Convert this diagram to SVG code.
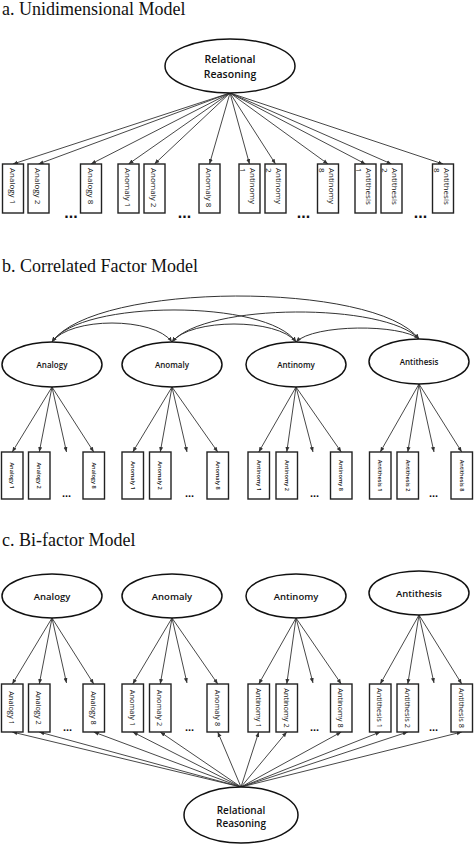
<svg xmlns="http://www.w3.org/2000/svg" width="474" height="846" viewBox="0 0 474 846">
<defs>
<marker id="ah" viewBox="0 0 10 10" refX="10" refY="5" markerWidth="5" markerHeight="5" markerUnits="userSpaceOnUse" orient="auto-start-reverse"><path d="M0,1 L10,5 L0,9 z" fill="#333"/></marker>
<style>
.title{font-family:"Liberation Serif",serif;font-size:18px;fill:#111}
.ell{fill:#fff;stroke:#111;stroke-width:1.5}
.box{fill:#fff;stroke:#222;stroke-width:1.4}
.lab{font-family:"Open Sans",sans-serif;fill:#111;text-anchor:middle}
.big{font-size:10.5px;font-weight:600}
.fb{font-size:8px;font-weight:600}
.fc{font-size:9.5px;font-weight:600}
.ta{font-family:"Open Sans",sans-serif;font-size:8px;fill:#111;dominant-baseline:central}
.tb{font-family:"Open Sans",sans-serif;font-size:5.6px;font-weight:600;fill:#111;text-anchor:middle;dominant-baseline:central}
.tc{font-family:"Open Sans",sans-serif;font-size:7.4px;fill:#111;text-anchor:middle;dominant-baseline:central}
.dots{font-family:"Liberation Sans",sans-serif;font-weight:bold;fill:#111;text-anchor:middle}
.arr{stroke:#333;stroke-width:0.9;fill:none;marker-end:url(#ah)}
.cv{stroke:#333;stroke-width:1;fill:none;marker-start:url(#ah);marker-end:url(#ah)}
</style>
</defs>

<text class="title" x="2" y="15">a. Unidimensional Model</text>
<text class="title" x="2" y="272">b. Correlated Factor Model</text>
<text class="title" x="2" y="546">c. Bi-factor Model</text>

<!-- connectors -->
<g id="connectors">
<g id="conn-a">
<path class="arr" d="M230,93 L13,164"/>
<path class="arr" d="M230,93 L38.5,164"/>
<path class="arr" d="M230,93 L91,164"/>
<path class="arr" d="M230,93 L128.5,164"/>
<path class="arr" d="M230,93 L154.5,164"/>
<path class="arr" d="M230,93 L209.5,164"/>
<path class="arr" d="M230,93 L249.5,164"/>
<path class="arr" d="M230,93 L275.5,164"/>
<path class="arr" d="M230,93 L328,164"/>
<path class="arr" d="M230,93 L365.5,164"/>
<path class="arr" d="M230,93 L391.5,164"/>
<path class="arr" d="M230,93 L443,164"/>
</g>
<g id="corr-b">
<path class="cv" d="M52,342 C70,316.7 154,316.7 172,342"/>
<path class="cv" d="M52,342 C80,299.3 268,299.3 296,342"/>
<path class="cv" d="M52,342 C95,281.2 376,281.2 419,339"/>
<path class="cv" d="M172,342 C190,318 278,318 296,342"/>
<path class="cv" d="M172,342 C205,302.5 386,302.5 419,339"/>
<path class="cv" d="M296,342 C314,323.9 401,323.9 419,339"/>
</g>
<g id="load-b">
<path class="arr" d="M52,387 L12.25,452"/>
<path class="arr" d="M52,387 L39.25,452"/>
<path class="arr" d="M52,387 L66.5,452"/>
<path class="arr" d="M52,387 L93.75,452"/>
<path class="arr" d="M172,387 L132.75,452"/>
<path class="arr" d="M172,387 L160.25,452"/>
<path class="arr" d="M172,387 L187,452"/>
<path class="arr" d="M172,387 L217.75,452"/>
<path class="arr" d="M296,387 L258.75,452"/>
<path class="arr" d="M296,387 L286.75,452"/>
<path class="arr" d="M296,387 L313,452"/>
<path class="arr" d="M296,387 L341.25,452"/>
<path class="arr" d="M419,384 L380.25,452"/>
<path class="arr" d="M419,384 L407.75,452"/>
<path class="arr" d="M419,384 L434,452"/>
<path class="arr" d="M419,384 L461.75,452"/>
</g>
<g id="load-c">
<path class="arr" d="M52,618 L12.25,684"/>
<path class="arr" d="M52,618 L39.25,684"/>
<path class="arr" d="M52,618 L66.5,683"/>
<path class="arr" d="M52,618 L93.75,684"/>
<path class="arr" d="M172,618 L132.75,684"/>
<path class="arr" d="M172,618 L160.25,684"/>
<path class="arr" d="M172,618 L187,683"/>
<path class="arr" d="M172,618 L217.75,684"/>
<path class="arr" d="M296,618 L258.75,684"/>
<path class="arr" d="M296,618 L286.75,684"/>
<path class="arr" d="M296,618 L313,683"/>
<path class="arr" d="M296,618 L341.25,684"/>
<path class="arr" d="M419,615 L380.25,684"/>
<path class="arr" d="M419,615 L407.75,684"/>
<path class="arr" d="M419,615 L434,683"/>
<path class="arr" d="M419,615 L461.75,684"/>
</g>
<g id="load-g">
<path class="arr" d="M241,787 L12.25,732"/>
<path class="arr" d="M241,787 L39.25,732"/>
<path class="arr" d="M241,787 L93.75,732"/>
<path class="arr" d="M241,787 L132.75,732"/>
<path class="arr" d="M241,787 L160.25,732"/>
<path class="arr" d="M241,787 L217.75,732"/>
<path class="arr" d="M241,787 L258.75,732"/>
<path class="arr" d="M241,787 L286.75,732"/>
<path class="arr" d="M241,787 L341.25,732"/>
<path class="arr" d="M241,787 L380.25,732"/>
<path class="arr" d="M241,787 L407.75,732"/>
<path class="arr" d="M241,787 L461.75,732"/>
</g>
</g>

<g id="a-rr"><ellipse class="ell" cx="230" cy="66" rx="65" ry="27"/>
<text class="lab big" x="230" y="63">Relational</text><text class="lab big" x="230" y="78">Reasoning</text></g>

<g id="a-analogy1"><rect class="box" x="2.5" y="164" width="21" height="49"/><text class="ta" transform="translate(13,168) rotate(90)">Analogy 1</text></g>
<g id="a-analogy2"><rect class="box" x="28" y="164" width="21" height="49"/><text class="ta" transform="translate(38.5,168) rotate(90)">Analogy 2</text></g>
<g id="a-analogy8"><rect class="box" x="80.5" y="164" width="21" height="49"/><text class="ta" transform="translate(91,168) rotate(90)">Analogy 8</text></g>
<g id="a-anomaly1"><rect class="box" x="118" y="164" width="21" height="49"/><text class="ta" transform="translate(128.5,168) rotate(90)">Anomaly 1</text></g>
<g id="a-anomaly2"><rect class="box" x="144" y="164" width="21" height="49"/><text class="ta" transform="translate(154.5,168) rotate(90)">Anomaly 2</text></g>
<g id="a-anomaly8"><rect class="box" x="199" y="164" width="21" height="49"/><text class="ta" transform="translate(209.5,168) rotate(90)">Anomaly 8</text></g>
<g id="a-antinomy1"><rect class="box" x="239" y="164" width="21" height="49"/><text class="ta" transform="translate(249.5,168) rotate(90)"><tspan x="0" y="-4.5">Antinomy</tspan><tspan x="0" y="5.5">1</tspan></text></g>
<g id="a-antinomy2"><rect class="box" x="265" y="164" width="21" height="49"/><text class="ta" transform="translate(275.5,168) rotate(90)"><tspan x="0" y="-4.5">Antinomy</tspan><tspan x="0" y="5.5">2</tspan></text></g>
<g id="a-antinomy8"><rect class="box" x="317.5" y="164" width="21" height="49"/><text class="ta" transform="translate(328,168) rotate(90)"><tspan x="0" y="-4.5">Antinomy</tspan><tspan x="0" y="5.5">8</tspan></text></g>
<g id="a-antithesis1"><rect class="box" x="355" y="164" width="21" height="49"/><text class="ta" transform="translate(365.5,168) rotate(90)"><tspan x="0" y="-4.5">Antithesis</tspan><tspan x="0" y="5.5">1</tspan></text></g>
<g id="a-antithesis2"><rect class="box" x="381" y="164" width="21" height="49"/><text class="ta" transform="translate(391.5,168) rotate(90)"><tspan x="0" y="-4.5">Antithesis</tspan><tspan x="0" y="5.5">2</tspan></text></g>
<g id="a-antithesis8"><rect class="box" x="432.5" y="164" width="21" height="49"/><text class="ta" transform="translate(443,168) rotate(90)"><tspan x="0" y="-4.5">Antithesis</tspan><tspan x="0" y="5.5">8</tspan></text></g>
<g id="a-dots">
<text class="dots" font-size="16" x="71" y="218">...</text>
<text class="dots" font-size="16" x="184.5" y="218">...</text>
<text class="dots" font-size="16" x="303.5" y="218">...</text>
<text class="dots" font-size="16" x="420.5" y="218">...</text>
</g>

<g id="b-analogy"><ellipse class="ell" cx="52" cy="364.5" rx="50" ry="22.5"/><text class="lab fb" x="52" y="367.5">Analogy</text></g>
<g id="b-anomaly"><ellipse class="ell" cx="172" cy="364.5" rx="50" ry="22.5"/><text class="lab fb" x="172" y="367.5">Anomaly</text></g>
<g id="b-antinomy"><ellipse class="ell" cx="296" cy="364.5" rx="50" ry="22.5"/><text class="lab fb" x="296" y="367.5">Antinomy</text></g>
<g id="b-antithesis"><ellipse class="ell" cx="419" cy="361.5" rx="50" ry="22.5"/><text class="lab fb" x="419" y="364.5">Antithesis</text></g>

<g id="b-analogy1"><rect class="box" x="1.5" y="452" width="21.5" height="47"/><text class="tb" transform="translate(12.25,475.5) rotate(90)">Analogy 1</text></g>
<g id="b-analogy2"><rect class="box" x="28.5" y="452" width="21.5" height="47"/><text class="tb" transform="translate(39.25,475.5) rotate(90)">Analogy 2</text></g>
<g id="b-analogy8"><rect class="box" x="83" y="452" width="21.5" height="47"/><text class="tb" transform="translate(93.75,475.5) rotate(90)">Analogy 8</text></g>
<g id="b-anomaly1"><rect class="box" x="122" y="452" width="21.5" height="47"/><text class="tb" transform="translate(132.75,475.5) rotate(90)">Anomaly 1</text></g>
<g id="b-anomaly2"><rect class="box" x="149.5" y="452" width="21.5" height="47"/><text class="tb" transform="translate(160.25,475.5) rotate(90)">Anomaly 2</text></g>
<g id="b-anomaly8"><rect class="box" x="207" y="452" width="21.5" height="47"/><text class="tb" transform="translate(217.75,475.5) rotate(90)">Anomaly 8</text></g>
<g id="b-antinomy1"><rect class="box" x="248" y="452" width="21.5" height="47"/><text class="tb" transform="translate(258.75,475.5) rotate(90)">Antinomy 1</text></g>
<g id="b-antinomy2"><rect class="box" x="276" y="452" width="21.5" height="47"/><text class="tb" transform="translate(286.75,475.5) rotate(90)">Antinomy 2</text></g>
<g id="b-antinomy8"><rect class="box" x="330.5" y="452" width="21.5" height="47"/><text class="tb" transform="translate(341.25,475.5) rotate(90)">Antinomy 8</text></g>
<g id="b-antithesis1"><rect class="box" x="369.5" y="452" width="21.5" height="47"/><text class="tb" transform="translate(380.25,475.5) rotate(90)">Antithesis 1</text></g>
<g id="b-antithesis2"><rect class="box" x="397" y="452" width="21.5" height="47"/><text class="tb" transform="translate(407.75,475.5) rotate(90)">Antithesis 2</text></g>
<g id="b-antithesis8"><rect class="box" x="451" y="452" width="21.5" height="47"/><text class="tb" transform="translate(461.75,475.5) rotate(90)">Antithesis 8</text></g>
<g id="b-dots">
<text class="dots" font-size="11" x="66.5" y="497">...</text>
<text class="dots" font-size="11" x="189.5" y="497">...</text>
<text class="dots" font-size="11" x="314.5" y="497">...</text>
<text class="dots" font-size="11" x="433.5" y="497">...</text>
</g>

<g id="c-analogy"><ellipse class="ell" cx="52" cy="596" rx="50" ry="22"/><text class="lab fc" x="52" y="600">Analogy</text></g>
<g id="c-anomaly"><ellipse class="ell" cx="172" cy="596" rx="50" ry="22"/><text class="lab fc" x="172" y="600">Anomaly</text></g>
<g id="c-antinomy"><ellipse class="ell" cx="296" cy="596" rx="50" ry="22"/><text class="lab fc" x="296" y="600">Antinomy</text></g>
<g id="c-antithesis"><ellipse class="ell" cx="419" cy="593" rx="50" ry="22"/><text class="lab fc" x="419" y="597">Antithesis</text></g>

<g id="c-analogy1"><rect class="box" x="1.5" y="684" width="21.5" height="48"/><text class="tc" transform="translate(12.25,708) rotate(90)">Analogy 1</text></g>
<g id="c-analogy2"><rect class="box" x="28.5" y="684" width="21.5" height="48"/><text class="tc" transform="translate(39.25,708) rotate(90)">Analogy 2</text></g>
<g id="c-analogy8"><rect class="box" x="83" y="684" width="21.5" height="48"/><text class="tc" transform="translate(93.75,708) rotate(90)">Analogy 8</text></g>
<g id="c-anomaly1"><rect class="box" x="122" y="684" width="21.5" height="48"/><text class="tc" transform="translate(132.75,708) rotate(90)">Anomaly 1</text></g>
<g id="c-anomaly2"><rect class="box" x="149.5" y="684" width="21.5" height="48"/><text class="tc" transform="translate(160.25,708) rotate(90)">Anomaly 2</text></g>
<g id="c-anomaly8"><rect class="box" x="207" y="684" width="21.5" height="48"/><text class="tc" transform="translate(217.75,708) rotate(90)">Anomaly 8</text></g>
<g id="c-antinomy1"><rect class="box" x="248" y="684" width="21.5" height="48"/><text class="tc" transform="translate(258.75,708) rotate(90)">Antinomy 1</text></g>
<g id="c-antinomy2"><rect class="box" x="276" y="684" width="21.5" height="48"/><text class="tc" transform="translate(286.75,708) rotate(90)">Antinomy 2</text></g>
<g id="c-antinomy8"><rect class="box" x="330.5" y="684" width="21.5" height="48"/><text class="tc" transform="translate(341.25,708) rotate(90)">Antinomy 8</text></g>
<g id="c-antithesis1"><rect class="box" x="369.5" y="684" width="21.5" height="48"/><text class="tc" transform="translate(380.25,708) rotate(90)">Antithesis 1</text></g>
<g id="c-antithesis2"><rect class="box" x="397" y="684" width="21.5" height="48"/><text class="tc" transform="translate(407.75,708) rotate(90)">Antithesis 2</text></g>
<g id="c-antithesis8"><rect class="box" x="451" y="684" width="21.5" height="48"/><text class="tc" transform="translate(461.75,708) rotate(90)">Antithesis 8</text></g>
<g id="c-dots">
<text class="dots" font-size="11" x="67.5" y="731">...</text>
<text class="dots" font-size="11" x="189.5" y="731">...</text>
<text class="dots" font-size="11" x="314.5" y="731">...</text>
<text class="dots" font-size="11" x="433.5" y="731">...</text>
</g>

<g id="c-rr"><ellipse class="ell" cx="241" cy="815" rx="57" ry="28"/>
<text class="lab" font-size="10" font-weight="600" x="241" y="814">Relational</text><text class="lab" font-size="10" font-weight="600" x="241" y="827">Reasoning</text></g>
</svg>
